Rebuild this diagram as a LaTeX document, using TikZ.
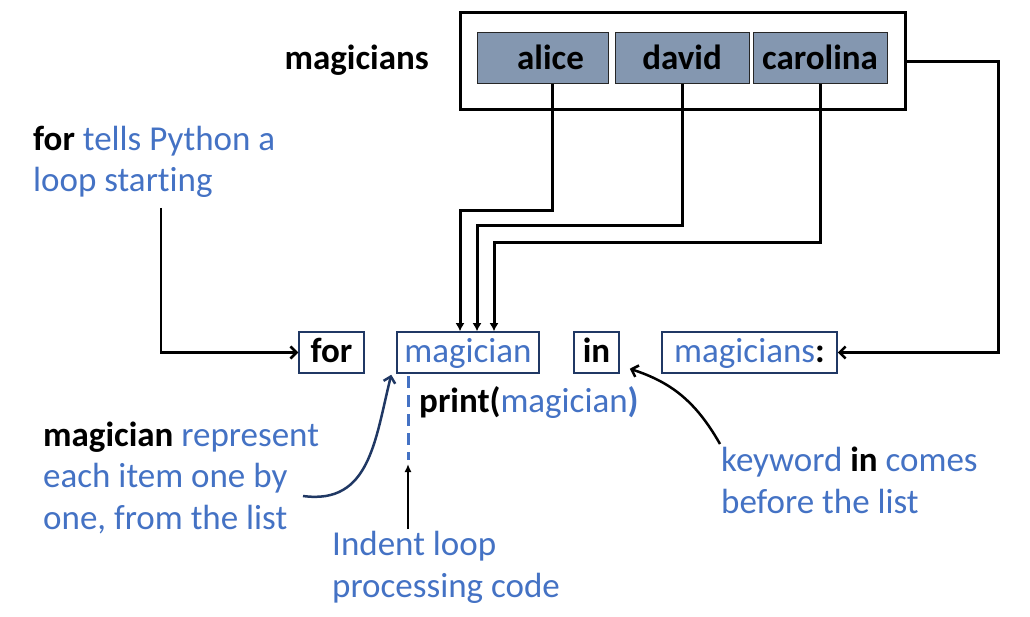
\documentclass[tikz,border=0pt]{standalone}
\usepackage{fontspec}
\setmainfont{Carlito}[Ligatures=NoCommon]
\usetikzlibrary{arrows.meta,positioning}
\definecolor{pyblue}{HTML}{4472C4}
\definecolor{navy}{HTML}{203864}
\definecolor{itemfill}{HTML}{8497B0}
\newcommand{\diagfont}{\fontsize{35}{41.5}\selectfont}
\tikzset{
  itembox/.style={draw=black!85,fill=itemfill,line width=1pt,minimum height=51pt,
    inner sep=0pt,text height=28pt,text depth=5pt,font=\diagfont\bfseries},
  codebox/.style={draw=navy,line width=1.5pt,minimum height=41pt,inner sep=0pt,
    text height=24pt,text depth=5pt},
  note/.style={anchor=base west,align=left,inner sep=0pt,text=pyblue},
  feed/.style={line width=3pt,-{Latex[length=8pt,width=9pt]}},
  pointer/.style={line width=2.5pt,-{Straight Barb[length=6pt,width=12pt]}},
  bent/.style={line width=2.5pt,-{Straight Barb[length=6pt,width=12pt]}}
}

\begin{document}
\begin{tikzpicture}[x=1pt,y=-1pt,font=\diagfont]
\useasboundingbox (0,0) rectangle (1030,617);
  % list of magicians
  \node[draw,line width=3pt,minimum width=445pt,minimum height=97pt,inner sep=0pt] (list) at (682.5,61.5) {};
  \node[itembox,minimum width=131pt] (alice) at (542.5,58.5) {\hspace*{16pt}alice};
  \node[itembox,minimum width=134pt] (david) at (682,58.5) {david};
  \node[itembox,minimum width=134pt] (carolina) at (820,58.5) {carolina};
  \node[anchor=base east,inner sep=0pt,font=\diagfont\bfseries] (listname) at (429,70) {magicians};
  % the loop line
  \node[codebox,minimum width=65pt] (kwfor) at (331.5,352.5) {\bfseries for};
  \node[codebox,minimum width=142pt,text=pyblue] (var) at (468,352.5) {magician};
  \node[codebox,minimum width=45pt] (kwin) at (596.5,352.5) {\bfseries in};
  \node[codebox,minimum width=175pt] (seq) at (749.5,352.5) {\textcolor{pyblue}{magicians}\textbf{:}\hspace{6pt}};
  \node[anchor=base west,inner sep=0pt] (print) at (419,412) {\textbf{print(}\textcolor{pyblue}{magician\textbf{)}}};
  % notes (base = last line)
  \node[note] (fornote) at (33,192) {{\color{black}\bfseries for} tells Python a\\loop starting};
  \node[note] (varnote) at (43,529) {{\color{black}\bfseries magician} represent\\each item one by\\one, from the list};
  \node[note] (indent) at (332,597) {Indent loop\\processing code};
  \node[note] (innote) at (721,513) {keyword {\color{black}\bfseries in} comes\\before the list};
  \coordinate (forstart) at (161,208);
  \coordinate (indtop) at (408,376);
  \coordinate (indbot) at (408,460);
  \coordinate (varfrom) at (303,496);
  \coordinate (infrom) at (720,444);
  % connectors
  \draw[feed] ([xshift=10pt]alice.south) -- ++(0,126) -| ([xshift=-8pt]var.north);
  \draw[feed] (david.south) -- ++(0,141) -| ([xshift=9pt]var.north);
  \draw[feed] (carolina.south) -- ++(0,158) -| ([xshift=26pt]var.north);
  \draw[pointer] (list.east) -- ++(92,0) |- (seq.east);
  \draw[pointer] (forstart) |- (kwfor.west);
  \draw[pyblue,line width=3pt,dash pattern=on 12pt off 7pt] (indtop) -- (indbot);
  \draw[line width=2pt,-{Latex[length=8pt,width=7pt]}] ([yshift=2pt]indent.north -| indbot) -- ([yshift=-4pt]indbot);
  \draw[bent,navy] (varfrom) .. controls (370,505) and (375,440) .. ([xshift=-5pt,yshift=-1pt]var.south west);
  \draw[bent] (infrom) .. controls (695,400) and (670,382) .. ([xshift=10pt,yshift=5pt]kwin.south east);
\end{tikzpicture}
\end{document}
